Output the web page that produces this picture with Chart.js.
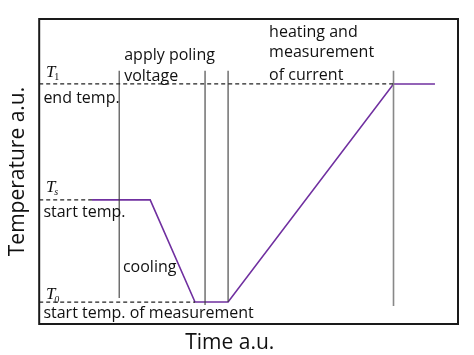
<!DOCTYPE html>
<html>
<head>
<meta charset="utf-8">
<script src="https://cdn.jsdelivr.net/npm/chart.js@4.4.1/dist/chart.umd.min.js"></script>
<style>
  html, body { margin: 0; padding: 0; background: #fff; }
  #wrap { width: 474px; height: 355px; }
</style>
</head>
<body>
<div id="wrap"><canvas id="tsdc"></canvas></div>
<script>
// temperature programme (arbitrary units, 0..100 on both axes)
const timePts = [12.6, 26.5, 37.2, 45.1, 84.6, 94.5];
const tempPts = [40.7, 40.7, 7.2, 7.2, 78.7, 78.7];

// reference temperature levels (dashed)
const levelNames = ['1', 's', '0'];
const levelY = [78.7, 40.7, 7.2];
const levelEndX = [84.6, 12.6, 37.2];

// phase boundaries (vertical lines)
const markX = [19.1, 39.6, 45.1, 84.6];
const markTop = [83, 83, 83, 83];
const markBottom = [8.5, 6.2, 7.2, 5.9];

// annotations
const noteText = ['apply poling', 'voltage', 'heating and', 'measurement', 'of current',
                  'end temp.', 'start temp.', 'cooling', 'start temp. of measurement'];
const noteX = [20.3, 20.3, 54.9, 54.9, 54.9, 1.0, 1.0, 20.0, 1.0];
const noteY = [88.2, 81.3, 95.7, 88.9, 81.6, 73.8, 36.7, 18.4, 3.3];
const tLabelX = [1.6, 1.6, 1.6];
const tLabelY = [82.6, 44.9, 9.5];

const xTitle = 'Time a.u.';
const xTitleAt = 45.5; // centre of the title along the time axis

const datasets = [];

levelY.forEach((y, i) => {
    datasets.push({
        data: [{x: 0, y: y}, {x: levelEndX[i], y: y}],
        borderColor: '#222',
        borderWidth: 1.2,
        borderDash: [4, 3]
    });
});

markX.forEach((x, i) => {
    datasets.push({
        data: [{x: x, y: markBottom[i]}, {x: x, y: markTop[i]}],
        borderColor: i === markX.length - 1 ? '#888' : '#3c3c3c',
        borderWidth: i === markX.length - 1 ? 1.6 : 1.1
    });
});

datasets.push({
    data: timePts.map((t, i) => ({x: t, y: tempPts[i]})),
    borderColor: '#7030a0',
    borderWidth: 1.6
});

const notesPlugin = {
    id: 'notes',
    afterDatasetsDraw(chart) {
        const {ctx, chartArea, scales} = chart;
        ctx.save();
        // frame
        ctx.strokeStyle = '#1a1a1a';
        ctx.lineWidth = 2;
        ctx.strokeRect(chartArea.left, chartArea.top,
                       chartArea.right - chartArea.left, chartArea.bottom - chartArea.top);

        ctx.fillStyle = '#111';
        ctx.textBaseline = 'middle';
        ctx.textAlign = 'left';
        ctx.font = '16px "Open Sans"';
        noteText.forEach((t, i) => {
            ctx.fillText(t, scales.x.getPixelForValue(noteX[i]), scales.y.getPixelForValue(noteY[i]));
        });

        // T labels with subscripts
        levelNames.forEach((s, i) => {
            const px = scales.x.getPixelForValue(tLabelX[i]);
            const py = scales.y.getPixelForValue(tLabelY[i]);
            ctx.font = 'italic 17px "Liberation Serif"';
            ctx.fillText('T', px, py);
            const w = ctx.measureText('T').width;
            ctx.font = (s === '1' ? '' : 'italic ') + '10px "Liberation Serif"';
            ctx.fillText(s, px + w - 1, py + 5);
        });

        // time axis title, sits left of centre in the original
        ctx.font = '21px "Open Sans"';
        ctx.textAlign = 'center';
        ctx.fillText(xTitle, scales.x.getPixelForValue(xTitleAt), chartArea.bottom + 19);
        ctx.restore();
    }
};

new Chart(document.getElementById('tsdc'), {
    type: 'line',
    data: { datasets: datasets },
    options: {
        responsive: true,
        maintainAspectRatio: false,
        animation: false,
        events: [],
        layout: { padding: { left: 0, top: 19, right: 16, bottom: 31 } },
        elements: { point: { radius: 0 }, line: { tension: 0 } },
        plugins: { legend: { display: false }, tooltip: { enabled: false } },
        scales: {
            x: {
                type: 'linear',
                min: 0,
                max: 100,
                display: false
            },
            y: {
                type: 'linear',
                min: 0,
                max: 100,
                ticks: { display: false },
                grid: { display: false, drawTicks: false },
                border: { display: false },
                title: {
                    display: true,
                    text: 'Temperature a.u.',
                    color: '#111',
                    font: { family: 'Open Sans', size: 21 },
                    padding: { top: 5, bottom: 9 }
                }
            }
        }
    },
    plugins: [notesPlugin]
});
</script>
</body>
</html>
